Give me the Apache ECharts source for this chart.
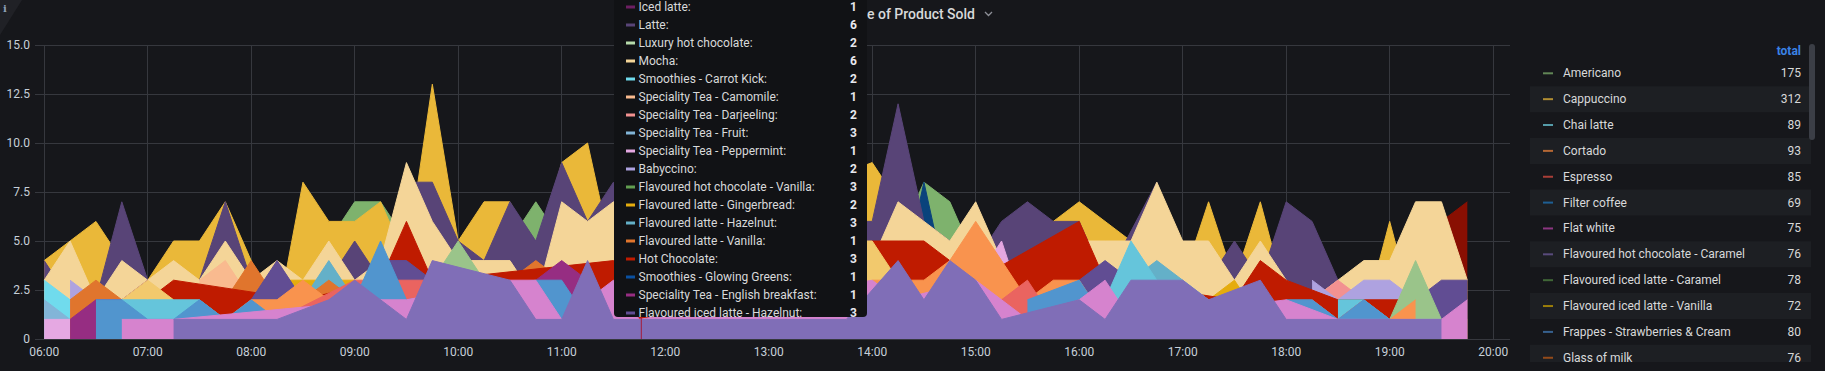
<!DOCTYPE html>
<html><head><meta charset="utf-8">
<script src="https://cdn.jsdelivr.net/npm/echarts@6.0.0/dist/echarts.min.js"></script>
<style>html,body{margin:0;padding:0;background:#16171b;overflow:hidden}#c{width:1825px;height:371px}</style>
</head><body><div id="c"></div>
<script>
// ---------- tick labels ----------
const xTickLabels = ['06:00','07:00','08:00','09:00','10:00','11:00','12:00','13:00','14:00','15:00','16:00','17:00','18:00','19:00','20:00'];
const yTickLabels = ['0','2.5','5.0','7.5','10.0','12.5','15.0'];

// ---------- series values: [15-minute slot since 06:00, count]; each series may have several segments ----------
const americano        = [[[11,5],[12,7],[13,7],[14,5],[18,5],[19,7],[20,5],[33,5],[34,8],[35,7],[36,4]]];
const cappuccino       = [[[0,4],[1,5],[2,6],[3,4],[4,3],[5,5],[6,5],[7,7],[8,4],[9,1],[10,8],[11,6],[12,6],[13,7],[14,4],[15,13],[16,5],[17,7],[18,7],[19,4],[20,9],[21,10],[22,4],[32,9],[33,7],[34,5],[35,4],[36,4],[38,4],[39,6],[40,7],[42,5],[44,3],[45,7],[46,3],[47,7],[48,2],[51,1],[52,6],[53,1],[55,1]]];
const series13         = [[[54,6],[55,7]]];
const series14         = [[[33,2],[34,8],[35,2]]];
const latte            = [[[0,4],[1,2],[2,2],[3,7],[4,3],[6,3],[7,7],[8,3],[9,2],[11,3],[12,5],[13,3],[14,8],[15,8],[16,5],[17,4],[18,7],[19,5],[20,9],[21,6],[22,8],[23,6],[32,6],[33,12],[34,6],[35,5],[36,4],[37,6],[38,7],[39,6],[40,6],[41,3],[43,8],[44,4],[45,3],[46,5],[47,3],[48,7],[49,6],[50,3]]];
const mocha            = [[[0,3],[1,5],[2,2],[3,4],[4,3],[5,4],[6,3],[7,5],[8,3],[9,4],[10,3],[11,5],[12,3],[13,4],[14,9],[15,6],[16,4],[17,4],[18,4],[19,2],[20,7],[21,6],[22,7],[23,6],[32,4],[33,7],[34,6],[35,5],[36,7],[37,4],[39,3],[40,5],[41,5],[42,5],[43,8],[44,5],[45,5],[46,3],[47,5],[48,3],[49,2],[50,3],[51,4],[52,4],[53,7],[54,7],[55,3]]];
const carrotKick       = [[[0,3],[1,2]]];
const camomile         = [[[6,3],[7,4],[8,2]]];
const darjeeling       = [[[49,2],[50,3],[51,2]]];
const fruitTea         = [[[0,2],[1,1]]];
const peppermint       = [[[0,1],[1,1]],[[36,3],[37,5],[38,1]]];
const babyccino        = [[[1,3],[2,2]],[[49,3],[50,2],[51,3],[52,3],[53,2]]];
const gingerbread      = [[[9,3],[12,3]],[[45,2],[46,3],[47,1]]];
const latteHazelnut    = [[[10,2],[11,4],[12,2]],[[42,3],[43,4],[44,3]]];
const latteVanilla     = [[[1,2],[2,3],[3,2]],[[7,2],[8,4],[9,2]],[[10,2],[11,3],[12,2]],[[18,3],[19,4],[20,3]]];
const hotChocolate     = [[[4,2],[5,3],[10,2],[13,3],[14,6],[15,3],[22,4],[23,3],[32,5],[33,5],[34,5],[35,4],[36,3],[40,6],[41,3],[46,2],[47,4],[48,3],[50,2],[54,2]]];
const englishBreakfast = [[[1,1],[2,2],[3,2],[4,3]],[[19,3],[20,4],[21,3]]];
const icedHazelnut     = [[[8,2],[9,4],[10,2]],[[13,4],[14,4],[15,3]],[[40,3],[41,4],[42,3]],[[53,2],[54,3],[55,3]]];
const series33         = [[[15,3],[16,5],[17,3]],[[52,1],[53,4],[54,1]]];
const series34         = [[[3,2],[4,3],[5,2]],[[31,5],[32,5],[33,3]]];
const series35         = [[[3,2],[4,2],[5,2],[6,2],[7,1]],[[41,2],[42,5],[43,3],[44,3],[45,2],[46,2]],[[50,2],[51,2],[52,1],[53,1],[54,1]]];
const series36         = [[[7,1],[8,2],[9,2],[10,3],[11,2]],[[32,3],[33,3],[34,3],[35,4],[36,6],[37,4],[38,2],[39,3],[40,3],[41,1]],[[52,1],[53,2]]];
const series37         = [[[9,1],[12,3],[15,3],[16,2]],[[37,2],[38,3],[39,1]],[[49,2],[50,1],[51,2]]];
const series38         = [[[2,2],[3,2],[4,1],[5,1],[6,2],[7,1],[8,2],[9,1],[12,2],[13,5],[14,2],[19,3],[20,3],[21,1]],[[38,2],[40,3],[41,1]],[[48,2],[49,2],[50,1],[51,2],[52,1]]];
const series39         = [[[3,1],[4,1],[5,1],[13,2],[14,2],[18,3],[19,3],[20,1],[22,3],[23,1],[32,3],[33,2],[36,3],[37,2],[38,1],[40,2],[41,3],[42,1],[48,2],[50,1],[54,1],[55,2]]];
const series40         = [[[5,1],[9,1],[11,2],[12,3],[14,1],[15,4],[18,3],[19,1],[20,1],[21,4],[22,1],[31,1],[33,4],[34,2],[35,4],[36,3],[37,1],[40,2],[41,1],[42,3],[44,3],[45,2],[47,3],[48,1],[54,1]]];

// draw order (later on top), names and colours
const seriesNames  = ['Americano','Cappuccino','Series 13','Series 14','Latte','Mocha','Smoothies - Carrot Kick','Speciality Tea - Camomile','Speciality Tea - Darjeeling','Speciality Tea - Fruit','Speciality Tea - Peppermint','Babyccino','Flavoured latte - Gingerbread','Flavoured latte - Hazelnut','Flavoured latte - Vanilla','Hot Chocolate','Speciality Tea - English breakfast','Flavoured iced latte - Hazelnut','Series 33','Series 34','Series 35','Series 36','Series 37','Series 38','Series 39','Series 40'];
const seriesColors = ['#7EB26D','#EAB839','#890F02','#0A437C','#584477','#F4D598','#70DBED','#F9BA8F','#F29191','#82B5D8','#E5A8E2','#AEA2E0','#E5AC0E','#64B0C8','#E0752D','#BF1B00','#962D82','#614D93','#9AC48A','#F2C96D','#65C5DB','#F9934E','#EA6460','#5195CE','#D683CE','#806EB7'];
const seriesValues = [americano,cappuccino,series13,series14,latte,mocha,carrotKick,camomile,darjeeling,fruitTea,peppermint,babyccino,gingerbread,latteHazelnut,latteVanilla,hotChocolate,englishBreakfast,icedHazelnut,series33,series34,series35,series36,series37,series38,series39,series40];

// ---------- legend table ----------
const legendNames  = ['Americano','Cappuccino','Chai latte','Cortado','Espresso','Filter coffee','Flat white','Flavoured hot chocolate - Caramel','Flavoured iced latte - Caramel','Flavoured iced latte - Vanilla','Frappes - Strawberries & Cream','Glass of milk'];
const legendTotals = [175,312,89,93,85,69,75,76,78,72,80,76];
const legendColors = ['#7EB26D','#EAB839','#6ED0E0','#EF843C','#E24D42','#1F78C1','#BA43A9','#705DA0','#508642','#CCA300','#447EBC','#C15C17'];

// ---------- hover tooltip (11:45) ----------
const tipNames  = ['Iced latte:','Latte:','Luxury hot chocolate:','Mocha:','Smoothies - Carrot Kick:','Speciality Tea - Camomile:','Speciality Tea - Darjeeling:','Speciality Tea - Fruit:','Speciality Tea - Peppermint:','Babyccino:','Flavoured hot chocolate - Vanilla:','Flavoured latte - Gingerbread:','Flavoured latte - Hazelnut:','Flavoured latte - Vanilla:','Hot Chocolate:','Smoothies - Glowing Greens:','Speciality Tea - English breakfast:','Flavoured iced latte - Hazelnut:'];
const tipValues = [1,6,2,6,2,1,2,3,1,2,3,2,3,1,3,1,1,3];
const tipColors = ['#6D1F62','#584477','#B7DBAB','#F4D598','#70DBED','#F9BA8F','#F29191','#82B5D8','#E5A8E2','#AEA2E0','#629E51','#E5AC0E','#64B0C8','#E0752D','#BF1B00','#0A50A1','#962D82','#614D93'];
const tipSlot = 23;

// visible part of the panel title (its start is hidden behind the tooltip)
const titleText = 'e of Product Sold';

// ---------- build ----------
const FONT = 'Roboto, "Noto Sans", sans-serif';
const AXIS_TXT = '#c7d0d9';
const GRID = '#36383e';
const chart = echarts.init(document.getElementById('c'), null, {renderer:'svg'});

const series = [];
let order = 0;
seriesValues.forEach((segs, k) => {
  segs.forEach(seg => {
    order++;
    series.push({
      type:'line', name:seriesNames[k], xAxisIndex:1, yAxisIndex:1, z: 2 + order,
      data: seg.map(p => [p[0]/4, p[1]]),
      symbol:'none', showSymbol:false, silent:true, animation:false,
      lineStyle:{width:1, color:seriesColors[k]},
      itemStyle:{color:seriesColors[k]},
      areaStyle:{color:seriesColors[k], opacity:1}
    });
  });
});

const g = [];
// info corner
g.push({type:'polygon', shape:{points:[[0,0],[22,0],[0,35]]}, style:{fill:'#202126'}, z:150});
g.push({type:'text', style:{text:'i', x:5, y:8, fill:'#8fa0b8', font:'bold 10px "DejaVu Serif"', textAlign:'center', textVerticalAlign:'middle'}, z:151});
// title
g.push({type:'text', style:{text:titleText, x:867, y:14, fill:'#d8d9da', font:'500 14px '+FONT, textAlign:'left', textVerticalAlign:'middle'}, z:150});
g.push({type:'polyline', shape:{points:[[985,12],[988.5,15.5],[992,12]]}, style:{stroke:'#8e9098', lineWidth:1.3, fill:null}, z:150});
// crosshair
const chX = 44.2 + tipSlot*25.875 + 2;
g.push({type:'line', shape:{x1:chX, y1:317, x2:chX, y2:339}, style:{stroke:'rgba(170,20,45,0.9)', lineWidth:1}, z:160});
// tooltip
g.push({type:'rect', shape:{x:614, y:-12, width:253, height:329, r:4}, style:{fill:'#111215'}, z:200});
tipNames.forEach((n,k) => {
  const y = 7 + 18*k;
  g.push({type:'rect', shape:{x:626, y:y-1.5, width:9, height:3}, style:{fill:tipColors[k]}, z:201});
  g.push({type:'text', style:{text:n, x:638.5, y:y, fill:'#d8d9da', font:'12px '+FONT, textVerticalAlign:'middle'}, z:201});
  g.push({type:'text', style:{text:String(tipValues[k]), x:857, y:y, fill:'#e8e8ee', font:'bold 12px '+FONT, textAlign:'right', textVerticalAlign:'middle'}, z:201});
});
// legend table
g.push({type:'text', style:{text:'total', x:1801, y:50.7, fill:'#3a82e6', font:'bold 12px '+FONT, textAlign:'right', textVerticalAlign:'middle'}, z:150});
legendNames.forEach((n,k) => {
  const y = 73.3 + 25.86*k;
  if (k % 2 === 1) {
    const top = y - 13, h = Math.min(26, 362 - top);
    g.push({type:'rect', shape:{x:1530, y:top, width:281, height:h}, style:{fill:'#1d1f23'}, z:140});
  }
  g.push({type:'rect', shape:{x:1543, y:y-1, width:10, height:2}, style:{fill:legendColors[k], opacity:0.72}, z:150});
  g.push({type:'text', style:{text:n, x:1563, y:y, fill:'#d8d9da', font:'12px '+FONT, textVerticalAlign:'middle'}, z:150});
  g.push({type:'text', style:{text:String(legendTotals[k]), x:1801, y:y, fill:'#d8d9da', font:'12px '+FONT, textAlign:'right', textVerticalAlign:'middle'}, z:150});
});
g.push({type:'rect', shape:{x:1809, y:44, width:6, height:96, r:3}, style:{fill:'#3b3e46'}, z:155});

chart.setOption({
  backgroundColor:'#16171b',
  animation:false,
  grid:[
    {left:35, right:315, top:45, bottom:32},
    {left:44.2, right:331.8, top:45, bottom:32}
  ],
  xAxis:[
    {type:'value', gridIndex:0, min:0, max:1, show:false},
    {type:'value', gridIndex:1, min:0, max:14, interval:1,
     axisLabel:{formatter:v => xTickLabels[Math.round(v)], color:AXIS_TXT, fontSize:12, fontFamily:FONT, margin:7, showMinLabel:true, showMaxLabel:true},
     axisLine:{show:false}, axisTick:{show:false},
     splitLine:{show:true, showMinLine:true, showMaxLine:true, lineStyle:{color:GRID, width:1}}}
  ],
  yAxis:[
    {type:'value', gridIndex:0, min:0, max:15, interval:2.5,
     axisLabel:{formatter:v => yTickLabels[Math.round(v/2.5)], color:AXIS_TXT, fontSize:12, fontFamily:FONT, margin:5},
     axisLine:{show:false}, axisTick:{show:false},
     splitLine:{show:true, lineStyle:{color:GRID, width:1}}},
    {type:'value', gridIndex:1, min:0, max:15, show:false}
  ],
  series: series,
  graphic:{elements:g}
});
</script></body></html>
